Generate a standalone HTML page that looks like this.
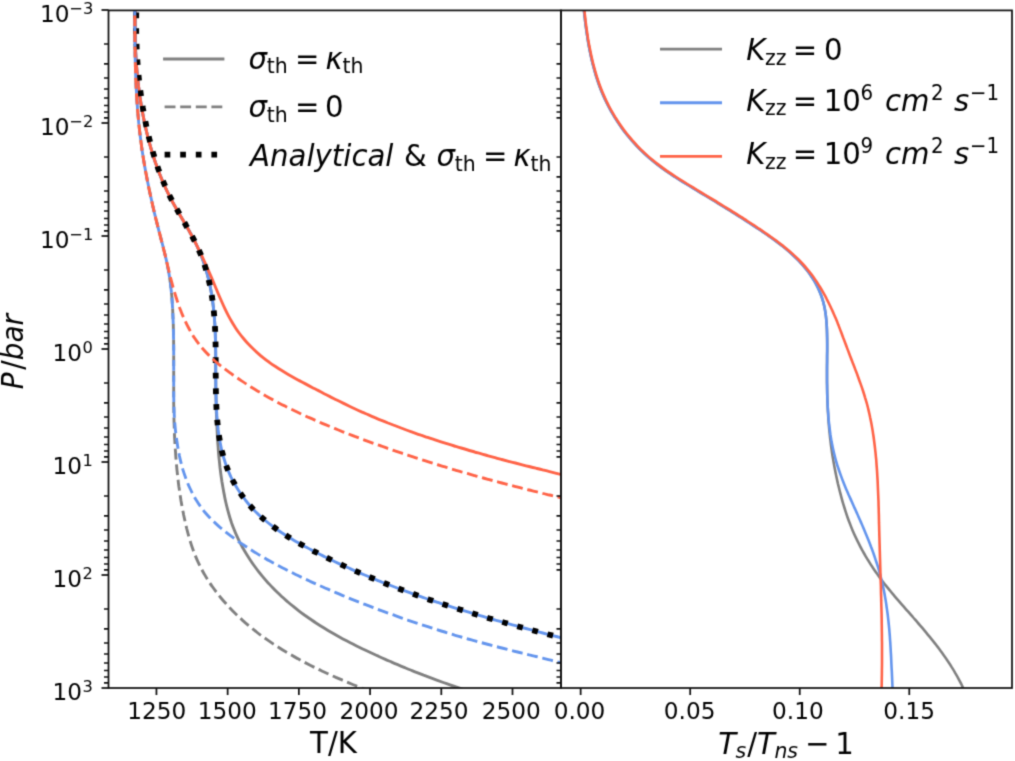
<!DOCTYPE html>
<html lang="en"><head><meta charset="utf-8"><title>P-T profiles</title>
<style>html,body{margin:0;padding:0;background:#fff}body{width:1015px;height:761px;overflow:hidden}svg{display:block}text{font-family:"DejaVu Sans","Liberation Sans",sans-serif;fill:#000}.i{font-style:italic}</style>
</head><body>
<svg width="1015" height="761" viewBox="0 0 1015 761">
<defs><filter id="soft" filterUnits="userSpaceOnUse" x="0" y="0" width="1015" height="761" color-interpolation-filters="sRGB"><feConvolveMatrix order="3" kernelMatrix="1 4 1 4 16 4 1 4 1" divisor="36" edgeMode="duplicate"/></filter></defs>
<defs><clipPath id="cl"><rect x="108.5" y="10.4" width="452.5" height="677.6"/></clipPath><clipPath id="cr"><rect x="561.0" y="10.4" width="451.0" height="677.6"/></clipPath></defs>
<g filter="url(#soft)">
<rect width="1015" height="761" fill="#fff"/>
<g clip-path="url(#cl)">
<path d="M135.1,10.5C135.1,11.7 135.0,15.2 135.0,17.5C135.0,19.9 135.0,22.2 135.0,24.6C135.0,26.9 135.0,29.3 135.0,31.6C135.0,34.0 135.1,36.3 135.2,38.7C135.2,41.0 135.3,43.4 135.4,45.7C135.5,48.0 135.6,50.4 135.7,52.7C135.8,55.1 135.9,57.4 136.1,59.8C136.2,62.1 136.4,64.4 136.6,66.8C136.8,69.1 137.0,71.5 137.2,73.8C137.4,76.1 137.6,78.5 137.9,80.8C138.1,83.1 138.4,85.5 138.7,87.8C139.0,90.1 139.3,92.5 139.6,94.8C140.0,97.1 140.3,99.4 140.7,101.7C141.0,104.1 141.4,106.4 141.8,108.7C142.2,111.0 142.7,113.3 143.1,115.6C143.6,117.9 144.0,120.2 144.5,122.5C145.0,124.8 145.5,127.1 146.0,129.4C146.6,131.7 147.1,134.0 147.7,136.2C148.3,138.5 148.9,140.8 149.5,143.0C150.1,145.3 150.7,147.6 151.4,149.8C152.1,152.1 152.8,154.3 153.5,156.5C154.2,158.8 154.9,161.0 155.7,163.2C156.4,165.5 157.2,167.7 158.1,169.9C158.9,172.1 159.7,174.3 160.6,176.4C161.5,178.6 162.4,180.8 163.3,182.9C164.3,185.1 165.2,187.2 166.2,189.3C167.2,191.5 168.2,193.6 169.3,195.7C170.3,197.8 171.4,199.9 172.5,201.9C173.7,204.0 174.8,206.0 176.0,208.1C177.1,210.1 178.3,212.2 179.5,214.2C180.6,216.2 181.8,218.2 183.0,220.3C184.2,222.3 185.4,224.3 186.6,226.4C187.7,228.4 188.9,230.4 190.0,232.5C191.2,234.5 192.3,236.6 193.4,238.7C194.4,240.8 195.5,242.9 196.5,245.0C197.5,247.1 198.5,249.2 199.4,251.4C200.4,253.5 201.2,255.7 202.1,257.9C202.9,260.1 203.7,262.3 204.4,264.5C205.2,266.8 205.8,269.0 206.5,271.3C207.1,273.5 207.7,275.8 208.3,278.1C208.9,280.4 209.4,282.7 209.9,284.9C210.3,287.2 210.8,289.6 211.2,291.9C211.6,294.2 212.0,296.5 212.3,298.8C212.6,301.1 212.9,303.5 213.2,305.8C213.5,308.1 213.7,310.5 214.0,312.8C214.2,315.1 214.4,317.5 214.5,319.8C214.7,322.2 214.9,324.5 215.0,326.8C215.1,329.2 215.2,331.5 215.3,333.9C215.4,336.2 215.4,338.6 215.5,340.9C215.6,343.3 215.6,345.6 215.6,348.0C215.7,350.3 215.7,352.7 215.7,355.0C215.7,357.3 215.7,359.7 215.7,362.0C215.7,364.4 215.7,366.7 215.7,369.1C215.7,371.4 215.7,373.8 215.7,376.1C215.8,378.5 215.8,380.8 215.8,383.2C215.8,385.5 215.8,387.9 215.9,390.2C215.9,392.6 216.0,394.9 216.0,397.2C216.0,399.6 216.1,401.9 216.2,404.3C216.2,406.6 216.3,409.0 216.3,411.3C216.4,413.7 216.5,416.0 216.6,418.4C216.7,420.7 216.8,423.1 216.9,425.4C217.0,427.7 217.1,430.1 217.2,432.4C217.3,434.8 217.5,437.1 217.6,439.5C217.7,441.8 217.9,444.2 218.1,446.5C218.2,448.8 218.4,451.2 218.6,453.5C218.8,455.9 219.0,458.2 219.3,460.5C219.5,462.9 219.8,465.2 220.0,467.5C220.3,469.9 220.6,472.2 220.9,474.5C221.2,476.9 221.6,479.2 221.9,481.5C222.3,483.8 222.7,486.2 223.1,488.5C223.5,490.8 223.9,493.1 224.4,495.4C224.8,497.7 225.3,500.0 225.8,502.3C226.3,504.6 226.9,506.9 227.5,509.2C228.1,511.5 228.7,513.7 229.4,516.0C230.0,518.2 230.8,520.5 231.5,522.7C232.3,524.9 233.1,527.1 234.0,529.3C234.8,531.4 235.7,533.6 236.7,535.7C237.7,537.9 238.7,540.0 239.7,542.1C240.8,544.1 241.9,546.2 243.0,548.3C244.2,550.3 245.3,552.3 246.6,554.3C247.8,556.3 249.1,558.3 250.4,560.2C251.7,562.2 253.0,564.1 254.4,566.0C255.8,567.9 257.2,569.8 258.6,571.6C260.1,573.5 261.5,575.3 263.1,577.1C264.6,578.9 266.1,580.7 267.7,582.4C269.3,584.1 270.9,585.9 272.5,587.5C274.1,589.2 275.8,590.9 277.5,592.5C279.1,594.1 280.9,595.7 282.6,597.3C284.3,598.9 286.1,600.4 287.9,602.0C289.6,603.5 291.4,605.0 293.3,606.4C295.1,607.9 296.9,609.4 298.8,610.8C300.6,612.2 302.5,613.6 304.4,615.0C306.3,616.3 308.3,617.7 310.2,619.0C312.1,620.3 314.1,621.7 316.0,622.9C318.0,624.2 320.0,625.5 322.0,626.7C324.0,628.0 326.0,629.2 328.0,630.4C330.1,631.6 332.1,632.8 334.2,634.0C336.2,635.1 338.3,636.3 340.3,637.4C342.4,638.6 344.5,639.7 346.6,640.8C348.7,641.9 350.8,643.0 352.9,644.0C355.0,645.1 357.1,646.2 359.2,647.2C361.3,648.3 363.4,649.3 365.6,650.3C367.7,651.3 369.8,652.3 372.0,653.3C374.1,654.3 376.2,655.3 378.4,656.2C380.5,657.2 382.7,658.2 384.8,659.1C386.9,660.1 389.1,661.0 391.2,661.9C393.4,662.9 395.5,663.8 397.7,664.7C399.8,665.6 402.0,666.5 404.1,667.4C406.3,668.3 408.4,669.2 410.6,670.0C412.8,670.9 414.9,671.8 417.1,672.6C419.3,673.5 421.4,674.3 423.6,675.2C425.8,676.0 428.0,676.9 430.2,677.7C432.3,678.5 434.5,679.3 436.7,680.1C438.9,680.9 441.1,681.7 443.3,682.5C445.5,683.3 447.8,684.1 450.0,684.9C452.2,685.7 454.4,686.5 456.7,687.2C458.9,688.0 461.1,688.8 463.4,689.5C465.6,690.3 469.0,691.4 470.1,691.8" fill="none" stroke="#808080" stroke-width="2.9" stroke-linejoin="round" stroke-linecap="square"/>
<path d="M135.1,10.5C135.1,11.7 135.0,15.2 135.0,17.5C135.0,19.8 135.0,22.1 135.0,24.5C135.0,26.8 135.0,29.1 135.0,31.5C135.0,33.8 135.1,36.1 135.1,38.5C135.2,40.8 135.3,43.1 135.4,45.5C135.4,47.8 135.6,50.2 135.7,52.5C135.8,54.8 135.9,57.2 136.1,59.5C136.2,61.8 136.4,64.2 136.6,66.5C136.7,68.8 136.9,71.2 137.2,73.5C137.4,75.8 137.6,78.1 137.9,80.5C138.1,82.8 138.4,85.1 138.7,87.4C139.0,89.7 139.3,92.1 139.6,94.4C139.9,96.7 140.2,99.0 140.6,101.3C141.0,103.6 141.3,105.9 141.7,108.2C142.1,110.5 142.6,112.8 143.0,115.1C143.4,117.4 143.9,119.7 144.4,122.0C144.9,124.2 145.4,126.5 145.9,128.8C146.4,131.1 147.0,133.3 147.5,135.6C148.1,137.8 148.7,140.1 149.3,142.3C149.9,144.6 150.5,146.8 151.2,149.1C151.8,151.3 152.5,153.5 153.2,155.7C153.9,158.0 154.6,160.2 155.4,162.4C156.2,164.6 156.9,166.8 157.7,169.0C158.5,171.1 159.4,173.3 160.2,175.5C161.1,177.7 162.0,179.8 162.9,182.0C163.8,184.1 164.8,186.2 165.7,188.3C166.7,190.5 167.7,192.6 168.8,194.7C169.8,196.8 170.9,198.8 172.0,200.9C173.1,203.0 174.2,205.0 175.4,207.1C176.5,209.1 177.7,211.1 178.9,213.2C180.1,215.2 181.3,217.2 182.4,219.3C183.6,221.3 184.8,223.3 186.0,225.4C187.2,227.4 188.3,229.4 189.5,231.5C190.6,233.5 191.7,235.6 192.8,237.6C193.9,239.7 195.0,241.8 196.0,243.9C197.0,246.0 198.0,248.1 198.9,250.2C199.9,252.3 200.8,254.5 201.6,256.6C202.4,258.8 203.2,261.0 204.0,263.2C204.7,265.4 205.4,267.6 206.1,269.8C206.7,272.0 207.3,274.3 207.9,276.5C208.5,278.8 209.0,281.1 209.5,283.3C210.0,285.6 210.5,287.9 210.9,290.2C211.3,292.5 211.7,294.8 212.0,297.1C212.4,299.4 212.7,301.7 213.0,304.0C213.3,306.3 213.6,308.7 213.8,311.0C214.0,313.3 214.2,315.6 214.4,317.9C214.6,320.3 214.7,322.6 214.9,324.9C215.0,327.2 215.1,329.6 215.2,331.9C215.3,334.2 215.4,336.5 215.4,338.9C215.5,341.2 215.6,343.5 215.6,345.9C215.6,348.2 215.7,350.5 215.7,352.9C215.7,355.2 215.7,357.5 215.7,359.9C215.7,362.2 215.7,364.5 215.7,366.9C215.7,369.2 215.7,371.5 215.7,373.9C215.7,376.2 215.8,378.5 215.8,380.9C215.8,383.2 215.8,385.5 215.8,387.9C215.9,390.2 215.9,392.6 216.0,394.9C216.0,397.2 216.1,399.6 216.2,401.9C216.3,404.2 216.4,406.6 216.5,408.9C216.6,411.3 216.8,413.6 216.9,415.9C217.1,418.3 217.3,420.6 217.5,422.9C217.7,425.3 218.0,427.6 218.2,429.9C218.5,432.3 218.8,434.6 219.2,436.9C219.6,439.2 219.9,441.5 220.4,443.8C220.8,446.1 221.3,448.4 221.8,450.7C222.4,453.0 223.0,455.2 223.6,457.5C224.3,459.7 225.0,461.9 225.7,464.1C226.5,466.3 227.3,468.5 228.2,470.7C229.1,472.8 230.0,475.0 231.0,477.1C232.1,479.2 233.1,481.3 234.3,483.3C235.4,485.3 236.6,487.4 237.8,489.3C239.1,491.3 240.4,493.3 241.7,495.2C243.1,497.1 244.5,498.9 245.9,500.8C247.4,502.6 248.8,504.4 250.4,506.1C251.9,507.8 253.5,509.5 255.1,511.2C256.8,512.8 258.4,514.4 260.1,516.0C261.8,517.5 263.6,519.1 265.3,520.5C267.1,522.0 268.9,523.5 270.8,524.9C272.6,526.3 274.5,527.7 276.4,529.0C278.3,530.4 280.2,531.7 282.1,533.0C284.1,534.3 286.1,535.5 288.0,536.8C290.0,538.0 292.0,539.2 294.1,540.4C296.1,541.6 298.1,542.7 300.2,543.9C302.2,545.0 304.3,546.2 306.4,547.3C308.4,548.4 310.5,549.5 312.6,550.6C314.7,551.7 316.8,552.7 318.9,553.8C321.0,554.9 323.1,555.9 325.2,557.0C327.3,558.0 329.4,559.0 331.5,560.0C333.6,561.1 335.7,562.1 337.9,563.1C340.0,564.0 342.1,565.0 344.2,566.0C346.4,567.0 348.5,567.9 350.6,568.9C352.7,569.9 354.9,570.8 357.0,571.7C359.2,572.7 361.3,573.6 363.5,574.5C365.6,575.4 367.7,576.3 369.9,577.2C372.1,578.1 374.2,579.0 376.4,579.9C378.5,580.8 380.7,581.6 382.9,582.5C385.0,583.4 387.2,584.2 389.4,585.0C391.5,585.9 393.7,586.7 395.9,587.5C398.1,588.4 400.2,589.2 402.4,590.0C404.6,590.8 406.8,591.6 409.0,592.4C411.2,593.2 413.4,594.0 415.6,594.8C417.7,595.6 419.9,596.3 422.1,597.1C424.3,597.9 426.5,598.6 428.7,599.4C430.9,600.1 433.2,600.9 435.4,601.6C437.6,602.3 439.8,603.1 442.0,603.8C444.2,604.5 446.4,605.2 448.6,605.9C450.9,606.7 453.1,607.4 455.3,608.1C457.5,608.8 459.7,609.5 462.0,610.1C464.2,610.8 466.4,611.5 468.7,612.2C470.9,612.9 473.1,613.5 475.4,614.2C477.6,614.9 479.8,615.5 482.1,616.2C484.3,616.9 486.5,617.5 488.8,618.2C491.0,618.8 493.3,619.4 495.5,620.1C497.8,620.7 500.0,621.4 502.2,622.0C504.5,622.6 506.7,623.3 509.0,623.9C511.2,624.5 513.5,625.1 515.7,625.7C518.0,626.4 520.3,627.0 522.5,627.6C524.8,628.2 527.0,628.8 529.3,629.4C531.5,630.0 533.8,630.6 536.1,631.2C538.3,631.8 540.6,632.4 542.8,633.0C545.1,633.6 547.4,634.2 549.6,634.8C551.9,635.4 554.2,636.0 556.4,636.5C558.7,637.1 561.0,637.7 563.2,638.3C565.5,638.9 568.9,639.7 570.1,640.0" fill="none" stroke="#6495ed" stroke-width="2.9" stroke-linejoin="round" stroke-linecap="square"/>
<path d="M135.1,10.5C135.1,11.7 135.0,15.2 135.0,17.5C135.0,19.9 135.0,22.2 135.0,24.6C135.0,26.9 135.0,29.2 135.0,31.6C135.0,33.9 135.1,36.3 135.1,38.6C135.2,41.0 135.3,43.3 135.4,45.6C135.5,48.0 135.6,50.3 135.7,52.7C135.8,55.0 135.9,57.4 136.1,59.7C136.2,62.0 136.4,64.4 136.6,66.7C136.8,69.0 137.0,71.4 137.2,73.7C137.4,76.1 137.6,78.4 137.9,80.7C138.1,83.0 138.4,85.4 138.7,87.7C139.0,90.0 139.3,92.3 139.6,94.7C139.9,97.0 140.3,99.3 140.7,101.6C141.0,103.9 141.4,106.2 141.8,108.6C142.2,110.9 142.6,113.2 143.1,115.5C143.5,117.8 144.0,120.1 144.5,122.4C145.0,124.7 145.5,126.9 146.0,129.2C146.5,131.5 147.1,133.8 147.6,136.1C148.2,138.3 148.8,140.6 149.4,142.9C150.0,145.1 150.7,147.4 151.3,149.6C152.0,151.9 152.7,154.1 153.4,156.3C154.1,158.6 154.9,160.8 155.6,163.0C156.4,165.2 157.2,167.4 158.0,169.6C158.8,171.8 159.6,174.0 160.5,176.2C161.4,178.4 162.3,180.6 163.2,182.7C164.1,184.9 165.1,187.0 166.1,189.1C167.1,191.2 168.1,193.3 169.2,195.4C170.2,197.5 171.3,199.6 172.4,201.7C173.5,203.7 174.7,205.8 175.8,207.8C177.0,209.9 178.2,211.9 179.3,213.9C180.5,215.9 181.7,218.0 182.9,220.0C184.0,222.0 185.2,224.0 186.4,226.1C187.6,228.1 188.7,230.1 189.8,232.2C191.0,234.2 192.1,236.3 193.2,238.4C194.3,240.5 195.3,242.5 196.4,244.6C197.4,246.7 198.5,248.9 199.5,251.0C200.5,253.1 201.5,255.2 202.5,257.3C203.4,259.5 204.4,261.6 205.4,263.7C206.3,265.9 207.3,268.0 208.2,270.1C209.2,272.3 210.1,274.4 211.1,276.6C212.0,278.7 212.9,280.9 213.8,283.0C214.7,285.2 215.6,287.4 216.5,289.5C217.4,291.7 218.3,293.9 219.2,296.0C220.2,298.2 221.1,300.3 222.1,302.5C223.0,304.6 224.0,306.8 225.0,308.9C226.0,311.0 227.0,313.1 228.1,315.1C229.2,317.2 230.3,319.3 231.5,321.3C232.6,323.3 233.9,325.3 235.1,327.2C236.4,329.2 237.7,331.1 239.1,333.0C240.5,334.9 242.0,336.7 243.5,338.5C245.0,340.3 246.5,342.1 248.1,343.8C249.7,345.5 251.4,347.2 253.1,348.8C254.8,350.5 256.5,352.1 258.3,353.6C260.0,355.2 261.9,356.7 263.7,358.1C265.5,359.6 267.4,361.0 269.3,362.3C271.2,363.7 273.1,365.0 275.1,366.3C277.0,367.6 279.0,368.9 281.0,370.1C283.0,371.3 285.0,372.5 287.0,373.7C289.0,374.9 291.1,376.1 293.1,377.2C295.2,378.3 297.2,379.5 299.3,380.6C301.4,381.7 303.4,382.8 305.5,383.9C307.6,385.0 309.7,386.1 311.7,387.2C313.8,388.3 315.9,389.3 318.0,390.4C320.1,391.5 322.1,392.6 324.2,393.7C326.3,394.7 328.4,395.8 330.5,396.9C332.6,397.9 334.7,399.0 336.8,400.0C338.9,401.1 341.0,402.1 343.1,403.1C345.2,404.2 347.3,405.2 349.4,406.2C351.5,407.2 353.6,408.2 355.8,409.2C357.9,410.1 360.0,411.1 362.1,412.1C364.3,413.0 366.4,414.0 368.6,414.9C370.7,415.8 372.9,416.8 375.0,417.7C377.2,418.6 379.3,419.5 381.5,420.3C383.7,421.2 385.8,422.1 388.0,423.0C390.2,423.8 392.4,424.7 394.6,425.5C396.7,426.4 398.9,427.2 401.1,428.0C403.3,428.8 405.5,429.7 407.7,430.5C409.9,431.3 412.1,432.1 414.3,432.8C416.5,433.6 418.7,434.4 421.0,435.2C423.2,435.9 425.4,436.7 427.6,437.4C429.8,438.2 432.1,438.9 434.3,439.6C436.5,440.4 438.7,441.1 441.0,441.8C443.2,442.5 445.4,443.2 447.7,443.9C449.9,444.6 452.2,445.3 454.4,446.0C456.7,446.7 458.9,447.4 461.2,448.0C463.4,448.7 465.7,449.4 467.9,450.0C470.2,450.7 472.4,451.3 474.7,452.0C476.9,452.6 479.2,453.3 481.4,453.9C483.7,454.5 486.0,455.2 488.2,455.8C490.5,456.4 492.8,457.0 495.0,457.6C497.3,458.3 499.6,458.9 501.8,459.5C504.1,460.1 506.4,460.7 508.6,461.3C510.9,461.9 513.2,462.5 515.4,463.0C517.7,463.6 520.0,464.2 522.3,464.8C524.5,465.4 526.8,466.0 529.1,466.5C531.3,467.1 533.6,467.7 535.9,468.2C538.2,468.8 540.4,469.4 542.7,469.9C545.0,470.5 547.2,471.1 549.5,471.6C551.8,472.2 554.1,472.8 556.3,473.3C558.6,473.9 560.9,474.4 563.1,475.0C565.4,475.5 568.8,476.4 569.9,476.6" fill="none" stroke="#ff6347" stroke-width="2.9" stroke-linejoin="round" stroke-linecap="square"/>
<path d="M136.3,10.5C136.3,11.7 136.2,15.2 136.2,17.5C136.2,19.8 136.2,22.1 136.2,24.5C136.2,26.8 136.2,29.1 136.2,31.5C136.2,33.8 136.3,36.1 136.3,38.5C136.4,40.8 136.5,43.1 136.6,45.5C136.6,47.8 136.8,50.2 136.9,52.5C137.0,54.8 137.1,57.2 137.3,59.5C137.4,61.8 137.6,64.2 137.8,66.5C137.9,68.8 138.1,71.2 138.4,73.5C138.6,75.8 138.8,78.1 139.1,80.5C139.3,82.8 139.6,85.1 139.9,87.4C140.2,89.7 140.5,92.1 140.8,94.4C141.1,96.7 141.4,99.0 141.8,101.3C142.2,103.6 142.6,105.9 142.9,108.2C143.3,110.5 143.7,112.8 144.1,115.1C144.6,117.4 145.0,119.7 145.5,122.0C145.9,124.2 146.4,126.5 146.9,128.8C147.4,131.1 147.9,133.3 148.5,135.6C149.0,137.8 149.6,140.1 150.2,142.3C150.7,144.6 151.4,146.8 152.0,149.1C152.6,151.3 153.3,153.5 154.0,155.7C154.6,158.0 155.3,160.2 156.1,162.4C156.8,164.6 157.6,166.8 158.3,169.0C159.1,171.1 159.9,173.3 160.8,175.5C161.6,177.7 162.5,179.8 163.4,182.0C164.3,184.1 165.2,186.2 166.1,188.3C167.1,190.5 168.1,192.6 169.1,194.7C170.1,196.8 171.2,198.8 172.3,200.9C173.4,203.0 174.5,205.0 175.6,207.1C176.8,209.1 177.9,211.1 179.1,213.2C180.2,215.2 181.4,217.2 182.5,219.3C183.7,221.3 184.9,223.3 186.0,225.4C187.2,227.4 188.3,229.4 189.5,231.5C190.6,233.5 191.7,235.6 192.8,237.6C193.9,239.7 195.0,241.8 196.0,243.9C197.0,246.0 198.0,248.1 198.9,250.2C199.9,252.3 200.8,254.5 201.6,256.6C202.4,258.8 203.2,261.0 204.0,263.2C204.7,265.4 205.4,267.6 206.1,269.8C206.7,272.0 207.3,274.3 207.9,276.5C208.5,278.8 209.0,281.1 209.5,283.3C210.0,285.6 210.5,287.9 210.9,290.2C211.3,292.5 211.7,294.8 212.0,297.1C212.4,299.4 212.7,301.7 213.0,304.0C213.3,306.3 213.6,308.7 213.8,311.0C214.0,313.3 214.2,315.6 214.4,317.9C214.6,320.3 214.7,322.6 214.9,324.9C215.0,327.2 215.1,329.6 215.2,331.9C215.3,334.2 215.4,336.5 215.4,338.9C215.5,341.2 215.6,343.5 215.6,345.9C215.6,348.2 215.7,350.5 215.7,352.9C215.7,355.2 215.7,357.5 215.7,359.9C215.7,362.2 215.7,364.5 215.7,366.9C215.7,369.2 215.7,371.5 215.7,373.9C215.7,376.2 215.8,378.5 215.8,380.9C215.8,383.2 215.8,385.5 215.8,387.9C215.9,390.2 215.9,392.6 216.0,394.9C216.0,397.2 216.1,399.6 216.2,401.9C216.3,404.2 216.4,406.6 216.5,408.9C216.6,411.3 216.8,413.6 216.9,415.9C217.1,418.3 217.3,420.6 217.5,422.9C217.7,425.3 218.0,427.6 218.2,429.9C218.5,432.3 218.8,434.6 219.2,436.9C219.6,439.2 219.9,441.5 220.4,443.8C220.8,446.1 221.3,448.4 221.8,450.7C222.4,453.0 223.0,455.2 223.6,457.5C224.3,459.7 225.0,461.9 225.7,464.1C226.5,466.3 227.3,468.5 228.2,470.7C229.1,472.8 230.0,475.0 231.0,477.1C232.1,479.2 233.1,481.3 234.3,483.3C235.4,485.3 236.6,487.4 237.8,489.3C239.1,491.3 240.4,493.3 241.7,495.2C243.1,497.1 244.5,498.9 245.9,500.8C247.4,502.6 248.8,504.4 250.4,506.1C251.9,507.8 253.5,509.5 255.1,511.2C256.8,512.8 258.4,514.4 260.1,516.0C261.8,517.5 263.6,519.1 265.3,520.5C267.1,522.0 268.9,523.5 270.8,524.9C272.6,526.3 274.5,527.7 276.4,529.0C278.3,530.4 280.2,531.7 282.1,533.0C284.1,534.3 286.1,535.5 288.0,536.8C290.0,538.0 292.0,539.2 294.1,540.4C296.1,541.6 298.1,542.7 300.2,543.9C302.2,545.0 304.3,546.2 306.4,547.3C308.4,548.4 310.5,549.5 312.6,550.6C314.7,551.7 316.8,552.7 318.9,553.8C321.0,554.9 323.1,555.9 325.2,557.0C327.3,558.0 329.4,559.0 331.5,560.0C333.6,561.1 335.7,562.1 337.9,563.1C340.0,564.0 342.1,565.0 344.2,566.0C346.4,567.0 348.5,567.9 350.6,568.9C352.7,569.9 354.9,570.8 357.0,571.7C359.2,572.7 361.3,573.6 363.5,574.5C365.6,575.4 367.7,576.3 369.9,577.2C372.1,578.1 374.2,579.0 376.4,579.9C378.5,580.8 380.7,581.6 382.9,582.5C385.0,583.4 387.2,584.2 389.4,585.0C391.5,585.9 393.7,586.7 395.9,587.5C398.1,588.4 400.2,589.2 402.4,590.0C404.6,590.8 406.8,591.6 409.0,592.4C411.2,593.2 413.4,594.0 415.6,594.8C417.7,595.6 419.9,596.3 422.1,597.1C424.3,597.9 426.5,598.6 428.7,599.4C430.9,600.1 433.2,600.9 435.4,601.6C437.6,602.3 439.8,603.1 442.0,603.8C444.2,604.5 446.4,605.2 448.6,605.9C450.9,606.7 453.1,607.4 455.3,608.1C457.5,608.8 459.7,609.5 462.0,610.1C464.2,610.8 466.4,611.5 468.7,612.2C470.9,612.9 473.1,613.5 475.4,614.2C477.6,614.9 479.8,615.5 482.1,616.2C484.3,616.9 486.5,617.5 488.8,618.2C491.0,618.8 493.3,619.4 495.5,620.1C497.8,620.7 500.0,621.4 502.2,622.0C504.5,622.6 506.7,623.3 509.0,623.9C511.2,624.5 513.5,625.1 515.7,625.7C518.0,626.4 520.3,627.0 522.5,627.6C524.8,628.2 527.0,628.8 529.3,629.4C531.5,630.0 533.8,630.6 536.1,631.2C538.3,631.8 540.6,632.4 542.8,633.0C545.1,633.6 547.4,634.2 549.6,634.8C551.9,635.4 554.2,636.0 556.4,636.5C558.7,637.1 561.0,637.7 563.2,638.3C565.5,638.9 568.9,639.7 570.1,640.0" fill="none" stroke="#000" stroke-width="5.8" stroke-linejoin="round" stroke-linecap="butt" stroke-dasharray="5.7 9.9" stroke-dashoffset="13.47"/>
<path d="M134.8,10.5C134.8,11.7 134.8,15.2 134.8,17.5C134.8,19.9 134.8,22.2 134.8,24.6C134.8,26.9 134.8,29.3 134.9,31.6C134.9,34.0 134.9,36.3 134.9,38.7C134.9,41.0 135.0,43.4 135.0,45.8C135.0,48.1 135.1,50.5 135.1,52.8C135.1,55.2 135.2,57.5 135.2,59.9C135.3,62.2 135.4,64.6 135.4,67.0C135.5,69.3 135.6,71.7 135.7,74.0C135.7,76.4 135.8,78.7 135.9,81.1C136.0,83.4 136.1,85.8 136.2,88.2C136.4,90.5 136.5,92.9 136.6,95.2C136.8,97.6 136.9,99.9 137.1,102.3C137.2,104.6 137.4,107.0 137.6,109.3C137.8,111.7 138.0,114.0 138.2,116.4C138.4,118.7 138.6,121.0 138.8,123.4C139.0,125.7 139.3,128.1 139.5,130.4C139.8,132.7 140.1,135.1 140.4,137.4C140.7,139.7 141.0,142.1 141.3,144.4C141.6,146.7 141.9,149.1 142.3,151.4C142.6,153.7 143.0,156.0 143.4,158.4C143.7,160.7 144.1,163.0 144.5,165.3C144.9,167.6 145.3,169.9 145.8,172.3C146.2,174.6 146.6,176.9 147.1,179.2C147.5,181.5 148.0,183.8 148.5,186.1C149.0,188.4 149.4,190.7 149.9,193.0C150.4,195.3 150.9,197.6 151.4,199.9C152.0,202.2 152.5,204.5 153.0,206.8C153.5,209.1 154.1,211.4 154.6,213.7C155.2,216.0 155.7,218.3 156.3,220.5C156.9,222.8 157.4,225.1 158.0,227.4C158.6,229.7 159.2,232.0 159.8,234.2C160.4,236.5 161.0,238.8 161.6,241.1C162.2,243.4 162.8,245.6 163.3,247.9C163.9,250.2 164.5,252.5 165.1,254.8C165.6,257.0 166.1,259.3 166.6,261.6C167.1,263.9 167.6,266.2 168.1,268.5C168.5,270.8 168.9,273.1 169.3,275.4C169.6,277.8 170.0,280.1 170.3,282.4C170.6,284.7 170.9,287.1 171.1,289.4C171.3,291.7 171.6,294.1 171.8,296.4C172.0,298.7 172.1,301.1 172.3,303.4C172.4,305.8 172.6,308.1 172.7,310.5C172.8,312.8 172.9,315.2 173.0,317.5C173.1,319.9 173.2,322.2 173.3,324.6C173.3,326.9 173.4,329.3 173.4,331.6C173.5,334.0 173.5,336.3 173.6,338.7C173.6,341.0 173.6,343.4 173.7,345.7C173.7,348.1 173.7,350.4 173.7,352.8C173.7,355.1 173.7,357.5 173.7,359.8C173.7,362.2 173.7,364.6 173.7,366.9C173.7,369.3 173.7,371.6 173.7,374.0C173.7,376.3 173.7,378.7 173.7,381.1C173.7,383.4 173.7,385.8 173.7,388.1C173.7,390.5 173.7,392.8 173.7,395.2C173.7,397.6 173.7,399.9 173.7,402.3C173.7,404.6 173.8,407.0 173.8,409.3C173.8,411.7 173.9,414.1 173.9,416.4C174.0,418.8 174.0,421.1 174.1,423.5C174.2,425.8 174.3,428.2 174.3,430.6C174.4,432.9 174.5,435.3 174.6,437.6C174.8,440.0 174.9,442.3 175.0,444.7C175.1,447.0 175.3,449.4 175.5,451.7C175.6,454.1 175.8,456.4 176.0,458.8C176.2,461.1 176.4,463.5 176.6,465.8C176.8,468.1 177.0,470.5 177.3,472.8C177.5,475.2 177.8,477.5 178.1,479.8C178.3,482.2 178.6,484.5 178.9,486.8C179.3,489.2 179.6,491.5 179.9,493.8C180.3,496.1 180.7,498.5 181.0,500.8C181.4,503.1 181.8,505.4 182.3,507.7C182.7,510.1 183.2,512.4 183.6,514.7C184.1,517.0 184.6,519.3 185.1,521.6C185.6,523.9 186.2,526.2 186.7,528.5C187.3,530.8 187.9,533.1 188.5,535.3C189.1,537.6 189.8,539.9 190.5,542.1C191.2,544.4 191.9,546.6 192.7,548.8C193.5,551.0 194.3,553.2 195.2,555.4C196.1,557.6 197.0,559.8 198.0,561.9C199.0,564.0 200.0,566.1 201.1,568.2C202.1,570.3 203.3,572.4 204.5,574.4C205.6,576.4 206.9,578.5 208.2,580.4C209.4,582.4 210.7,584.4 212.1,586.3C213.4,588.2 214.8,590.1 216.3,592.0C217.7,593.8 219.1,595.7 220.6,597.5C222.1,599.3 223.6,601.1 225.2,602.8C226.7,604.6 228.3,606.3 229.9,608.0C231.5,609.7 233.1,611.4 234.8,613.0C236.5,614.6 238.2,616.3 239.9,617.9C241.6,619.4 243.3,621.0 245.1,622.6C246.9,624.1 248.7,625.6 250.5,627.1C252.3,628.6 254.1,630.1 256.0,631.5C257.8,633.0 259.7,634.4 261.6,635.8C263.5,637.2 265.4,638.5 267.4,639.9C269.3,641.2 271.3,642.6 273.2,643.9C275.2,645.2 277.2,646.5 279.2,647.7C281.2,649.0 283.2,650.3 285.3,651.5C287.3,652.7 289.3,653.9 291.4,655.1C293.4,656.3 295.5,657.5 297.6,658.6C299.7,659.8 301.8,660.9 303.9,662.0C306.0,663.1 308.1,664.2 310.2,665.3C312.3,666.3 314.5,667.4 316.6,668.4C318.7,669.5 320.9,670.5 323.0,671.5C325.2,672.5 327.3,673.5 329.5,674.5C331.6,675.5 333.8,676.4 335.9,677.4C338.1,678.3 340.3,679.3 342.4,680.2C344.6,681.1 346.7,682.0 348.9,682.9C351.1,683.8 353.2,684.7 355.4,685.5C357.5,686.4 359.7,687.2 361.8,688.1C364.0,688.9 366.1,689.8 368.3,690.6C370.4,691.4 373.6,692.6 374.7,693.0" fill="none" stroke="#808080" stroke-width="2.9" stroke-linejoin="round" stroke-linecap="butt" stroke-dasharray="10.89 4.71" stroke-dashoffset="10.64"/>
<path d="M134.8,10.5C134.8,11.7 134.8,15.2 134.8,17.5C134.8,19.9 134.8,22.2 134.8,24.5C134.8,26.9 134.9,29.2 134.9,31.5C134.9,33.9 134.9,36.2 134.9,38.6C134.9,40.9 135.0,43.2 135.0,45.6C135.0,47.9 135.1,50.3 135.1,52.6C135.1,54.9 135.2,57.3 135.2,59.6C135.3,61.9 135.3,64.3 135.4,66.6C135.5,68.9 135.6,71.3 135.6,73.6C135.7,76.0 135.8,78.3 135.9,80.6C136.0,83.0 136.1,85.3 136.2,87.6C136.3,90.0 136.5,92.3 136.6,94.6C136.7,97.0 136.9,99.3 137.0,101.6C137.2,104.0 137.4,106.3 137.5,108.6C137.7,111.0 137.9,113.3 138.1,115.6C138.3,118.0 138.5,120.3 138.7,122.6C139.0,124.9 139.2,127.3 139.5,129.6C139.7,131.9 140.0,134.2 140.3,136.6C140.6,138.9 140.8,141.2 141.2,143.5C141.5,145.8 141.8,148.2 142.1,150.5C142.5,152.8 142.8,155.1 143.2,157.4C143.6,159.7 144.0,162.0 144.4,164.3C144.7,166.6 145.2,168.9 145.6,171.2C146.0,173.5 146.4,175.8 146.9,178.1C147.3,180.4 147.8,182.7 148.3,185.0C148.7,187.3 149.2,189.6 149.7,191.9C150.2,194.2 150.7,196.4 151.2,198.7C151.7,201.0 152.2,203.3 152.7,205.6C153.2,207.8 153.8,210.1 154.3,212.4C154.9,214.7 155.4,216.9 156.0,219.2C156.5,221.5 157.1,223.8 157.7,226.0C158.3,228.3 158.8,230.5 159.4,232.8C160.0,235.1 160.6,237.3 161.2,239.6C161.8,241.9 162.4,244.1 163.0,246.4C163.5,248.7 164.1,250.9 164.7,253.2C165.2,255.5 165.8,257.7 166.3,260.0C166.8,262.3 167.3,264.6 167.7,266.9C168.2,269.2 168.6,271.5 169.0,273.8C169.4,276.1 169.7,278.4 170.1,280.7C170.4,283.0 170.7,285.4 170.9,287.7C171.2,290.0 171.4,292.3 171.6,294.7C171.8,297.0 172.0,299.3 172.2,301.7C172.3,304.0 172.5,306.3 172.6,308.7C172.7,311.0 172.8,313.3 172.9,315.7C173.0,318.0 173.1,320.3 173.2,322.7C173.3,325.0 173.3,327.3 173.4,329.7C173.5,332.0 173.5,334.4 173.5,336.7C173.6,339.0 173.6,341.4 173.6,343.7C173.7,346.0 173.7,348.4 173.7,350.7C173.7,353.1 173.7,355.4 173.7,357.7C173.7,360.1 173.7,362.4 173.7,364.8C173.7,367.1 173.7,369.4 173.7,371.8C173.7,374.1 173.7,376.4 173.7,378.8C173.7,381.1 173.7,383.5 173.7,385.8C173.7,388.1 173.7,390.5 173.7,392.8C173.7,395.1 173.7,397.5 173.8,399.8C173.8,402.2 173.8,404.5 173.9,406.8C174.0,409.2 174.1,411.5 174.2,413.8C174.3,416.2 174.4,418.5 174.6,420.8C174.8,423.2 175.0,425.5 175.2,427.8C175.4,430.1 175.7,432.5 176.0,434.8C176.3,437.1 176.6,439.5 177.0,441.8C177.3,444.1 177.7,446.4 178.1,448.7C178.5,451.1 179.0,453.4 179.4,455.7C179.9,458.0 180.4,460.3 181.0,462.6C181.6,464.9 182.2,467.1 182.8,469.4C183.5,471.6 184.2,473.9 185.0,476.1C185.8,478.3 186.6,480.5 187.5,482.6C188.3,484.8 189.3,486.9 190.3,489.0C191.3,491.1 192.3,493.2 193.4,495.2C194.5,497.3 195.7,499.3 197.0,501.2C198.2,503.2 199.5,505.1 200.9,507.0C202.2,508.9 203.6,510.7 205.1,512.5C206.6,514.3 208.2,516.0 209.8,517.7C211.4,519.4 213.1,521.0 214.8,522.6C216.5,524.2 218.2,525.8 220.0,527.3C221.8,528.8 223.6,530.3 225.5,531.8C227.3,533.3 229.2,534.7 231.1,536.1C232.9,537.5 234.8,538.9 236.7,540.3C238.7,541.6 240.6,543.0 242.5,544.3C244.5,545.6 246.4,546.9 248.4,548.2C250.3,549.4 252.3,550.7 254.3,551.9C256.3,553.1 258.3,554.4 260.3,555.5C262.3,556.7 264.3,557.9 266.3,559.1C268.4,560.2 270.4,561.4 272.5,562.5C274.5,563.6 276.6,564.7 278.6,565.8C280.7,566.9 282.8,568.0 284.9,569.0C286.9,570.1 289.0,571.2 291.1,572.2C293.2,573.2 295.3,574.3 297.4,575.3C299.5,576.3 301.6,577.3 303.7,578.3C305.9,579.3 308.0,580.3 310.1,581.3C312.2,582.2 314.4,583.2 316.5,584.2C318.6,585.1 320.7,586.1 322.9,587.0C325.0,588.0 327.2,588.9 329.3,589.8C331.5,590.8 333.6,591.7 335.8,592.6C337.9,593.5 340.1,594.4 342.2,595.3C344.4,596.2 346.5,597.1 348.7,598.0C350.9,598.9 353.0,599.7 355.2,600.6C357.4,601.5 359.5,602.3 361.7,603.2C363.9,604.0 366.1,604.9 368.3,605.7C370.4,606.5 372.6,607.4 374.8,608.2C377.0,609.0 379.2,609.8 381.4,610.7C383.6,611.5 385.8,612.3 388.0,613.1C390.2,613.9 392.4,614.7 394.6,615.4C396.8,616.2 399.0,617.0 401.2,617.8C403.4,618.6 405.6,619.3 407.8,620.1C410.0,620.8 412.2,621.6 414.5,622.3C416.7,623.1 418.9,623.8 421.1,624.6C423.3,625.3 425.6,626.0 427.8,626.7C430.0,627.5 432.2,628.2 434.5,628.9C436.7,629.6 438.9,630.3 441.2,631.0C443.4,631.7 445.6,632.4 447.9,633.0C450.1,633.7 452.3,634.4 454.6,635.1C456.8,635.7 459.1,636.4 461.3,637.0C463.6,637.7 465.8,638.3 468.1,639.0C470.3,639.6 472.6,640.2 474.8,640.8C477.1,641.5 479.3,642.1 481.6,642.7C483.8,643.3 486.1,643.9 488.4,644.5C490.6,645.1 492.9,645.7 495.1,646.3C497.4,646.9 499.7,647.5 501.9,648.0C504.2,648.6 506.5,649.2 508.7,649.8C511.0,650.3 513.3,650.9 515.5,651.5C517.8,652.0 520.1,652.6 522.3,653.2C524.6,653.7 526.9,654.3 529.2,654.9C531.4,655.4 533.7,656.0 536.0,656.5C538.2,657.1 540.5,657.7 542.8,658.2C545.0,658.8 547.3,659.3 549.6,659.9C551.9,660.5 554.1,661.0 556.4,661.6C558.7,662.2 560.9,662.7 563.2,663.3C565.5,663.9 568.9,664.7 570.0,665.0" fill="none" stroke="#6495ed" stroke-width="2.9" stroke-linejoin="round" stroke-linecap="butt" stroke-dasharray="10.89 4.71" stroke-dashoffset="5.8"/>
<path d="M134.8,10.5C134.8,11.7 134.8,15.2 134.8,17.5C134.8,19.9 134.8,22.2 134.8,24.5C134.8,26.9 134.8,29.2 134.9,31.6C134.9,33.9 134.9,36.2 134.9,38.6C134.9,40.9 135.0,43.2 135.0,45.6C135.0,47.9 135.1,50.3 135.1,52.6C135.1,54.9 135.2,57.3 135.2,59.6C135.3,62.0 135.4,64.3 135.4,66.6C135.5,69.0 135.6,71.3 135.6,73.7C135.7,76.0 135.8,78.3 135.9,80.7C136.0,83.0 136.1,85.3 136.2,87.7C136.3,90.0 136.5,92.3 136.6,94.7C136.7,97.0 136.9,99.4 137.0,101.7C137.2,104.0 137.4,106.4 137.5,108.7C137.7,111.0 137.9,113.3 138.1,115.7C138.3,118.0 138.5,120.3 138.7,122.7C139.0,125.0 139.2,127.3 139.5,129.7C139.7,132.0 140.0,134.3 140.3,136.6C140.6,138.9 140.9,141.3 141.2,143.6C141.5,145.9 141.8,148.2 142.1,150.5C142.5,152.8 142.9,155.2 143.2,157.5C143.6,159.8 144.0,162.1 144.4,164.4C144.8,166.7 145.2,169.0 145.6,171.3C146.0,173.6 146.5,175.9 146.9,178.2C147.3,180.5 147.8,182.8 148.3,185.1C148.7,187.4 149.2,189.7 149.7,191.9C150.2,194.2 150.7,196.5 151.2,198.8C151.7,201.1 152.2,203.4 152.7,205.7C153.3,207.9 153.8,210.2 154.3,212.5C154.9,214.8 155.4,217.0 156.0,219.3C156.6,221.6 157.1,223.8 157.7,226.1C158.3,228.4 158.9,230.6 159.5,232.9C160.0,235.2 160.6,237.4 161.2,239.7C161.8,242.0 162.4,244.2 163.0,246.5C163.5,248.8 164.1,251.0 164.7,253.3C165.2,255.6 165.8,257.9 166.3,260.1C166.9,262.4 167.4,264.7 167.9,266.9C168.5,269.2 169.0,271.5 169.6,273.8C170.1,276.0 170.7,278.3 171.3,280.5C171.9,282.8 172.5,285.1 173.1,287.3C173.8,289.6 174.4,291.8 175.1,294.1C175.8,296.3 176.5,298.6 177.2,300.8C178.0,303.0 178.7,305.3 179.5,307.5C180.4,309.7 181.2,311.9 182.1,314.1C183.0,316.2 183.9,318.4 184.9,320.5C185.9,322.7 186.9,324.8 188.0,326.8C189.1,328.9 190.2,331.0 191.4,333.0C192.6,335.0 193.8,336.9 195.1,338.8C196.4,340.8 197.8,342.6 199.2,344.5C200.6,346.3 202.1,348.1 203.7,349.8C205.2,351.6 206.8,353.2 208.5,354.9C210.1,356.5 211.8,358.1 213.6,359.7C215.3,361.3 217.1,362.8 218.9,364.3C220.7,365.8 222.6,367.2 224.4,368.7C226.3,370.1 228.2,371.5 230.1,372.9C232.0,374.3 233.9,375.6 235.8,377.0C237.8,378.3 239.7,379.6 241.6,380.9C243.6,382.2 245.6,383.5 247.5,384.8C249.5,386.0 251.5,387.3 253.5,388.5C255.5,389.7 257.5,391.0 259.5,392.1C261.5,393.3 263.5,394.5 265.5,395.7C267.6,396.8 269.6,398.0 271.7,399.1C273.7,400.2 275.8,401.3 277.8,402.4C279.9,403.5 282.0,404.6 284.1,405.6C286.1,406.7 288.2,407.7 290.3,408.8C292.4,409.8 294.5,410.8 296.6,411.8C298.7,412.8 300.8,413.8 303.0,414.8C305.1,415.8 307.2,416.8 309.3,417.7C311.5,418.7 313.6,419.6 315.8,420.5C317.9,421.5 320.1,422.4 322.2,423.3C324.4,424.2 326.5,425.1 328.7,426.0C330.8,426.9 333.0,427.8 335.2,428.7C337.4,429.6 339.5,430.4 341.7,431.3C343.9,432.1 346.1,433.0 348.2,433.8C350.4,434.7 352.6,435.5 354.8,436.4C357.0,437.2 359.2,438.0 361.4,438.8C363.6,439.7 365.8,440.5 368.0,441.3C370.2,442.1 372.4,442.9 374.6,443.7C376.8,444.5 379.0,445.3 381.2,446.0C383.4,446.8 385.6,447.6 387.8,448.4C390.0,449.1 392.2,449.9 394.4,450.7C396.6,451.4 398.8,452.2 401.1,452.9C403.3,453.7 405.5,454.4 407.7,455.1C409.9,455.9 412.2,456.6 414.4,457.3C416.6,458.1 418.8,458.8 421.1,459.5C423.3,460.2 425.5,460.9 427.7,461.6C430.0,462.3 432.2,463.0 434.4,463.7C436.7,464.4 438.9,465.1 441.2,465.8C443.4,466.5 445.6,467.1 447.9,467.8C450.1,468.5 452.4,469.1 454.6,469.8C456.8,470.5 459.1,471.1 461.3,471.8C463.6,472.4 465.8,473.1 468.1,473.7C470.3,474.4 472.6,475.0 474.8,475.6C477.1,476.3 479.3,476.9 481.6,477.5C483.8,478.2 486.1,478.8 488.3,479.4C490.6,480.0 492.9,480.6 495.1,481.2C497.4,481.8 499.6,482.4 501.9,483.0C504.2,483.6 506.4,484.2 508.7,484.8C511.0,485.4 513.2,486.0 515.5,486.6C517.8,487.2 520.0,487.7 522.3,488.3C524.6,488.9 526.8,489.4 529.1,490.0C531.4,490.6 533.6,491.1 535.9,491.7C538.2,492.3 540.5,492.8 542.7,493.4C545.0,493.9 547.3,494.5 549.5,495.0C551.8,495.5 554.1,496.1 556.4,496.6C558.7,497.2 560.9,497.7 563.2,498.2C565.5,498.8 568.9,499.5 570.0,499.8" fill="none" stroke="#ff6347" stroke-width="2.9" stroke-linejoin="round" stroke-linecap="butt" stroke-dasharray="10.89 4.71" stroke-dashoffset="10.64"/>
</g>
<g clip-path="url(#cr)">
<path d="M584.0,10.9C584.1,12.1 584.5,15.6 584.8,17.9C585.0,20.3 585.3,22.6 585.6,24.9C585.9,27.2 586.2,29.6 586.6,31.9C586.9,34.2 587.3,36.6 587.6,38.9C588.0,41.2 588.4,43.5 588.8,45.8C589.3,48.1 589.7,50.4 590.2,52.7C590.7,55.0 591.2,57.3 591.7,59.6C592.2,61.9 592.8,64.2 593.4,66.5C594.0,68.8 594.6,71.0 595.3,73.3C595.9,75.5 596.6,77.8 597.4,80.0C598.1,82.2 598.9,84.5 599.7,86.7C600.5,88.9 601.4,91.0 602.3,93.2C603.2,95.4 604.2,97.5 605.2,99.7C606.2,101.8 607.2,103.9 608.3,106.0C609.4,108.1 610.5,110.1 611.7,112.2C612.8,114.2 614.0,116.2 615.3,118.2C616.5,120.2 617.8,122.2 619.1,124.1C620.4,126.1 621.8,128.0 623.2,129.9C624.6,131.8 626.1,133.6 627.5,135.5C629.0,137.3 630.5,139.1 632.1,140.9C633.6,142.6 635.2,144.4 636.8,146.1C638.4,147.8 640.1,149.5 641.8,151.1C643.5,152.7 645.2,154.3 646.9,155.9C648.7,157.5 650.5,159.0 652.3,160.5C654.1,162.0 655.9,163.5 657.8,164.9C659.7,166.3 661.6,167.7 663.5,169.1C665.4,170.5 667.3,171.8 669.3,173.1C671.2,174.4 673.2,175.7 675.1,177.0C677.1,178.3 679.1,179.6 681.1,180.8C683.1,182.1 685.1,183.3 687.1,184.5C689.1,185.8 691.1,187.0 693.1,188.2C695.1,189.4 697.1,190.6 699.1,191.8C701.2,193.0 703.2,194.2 705.2,195.5C707.2,196.7 709.2,197.9 711.2,199.1C713.2,200.3 715.2,201.6 717.2,202.8C719.2,204.0 721.2,205.2 723.2,206.5C725.2,207.7 727.2,209.0 729.2,210.2C731.2,211.4 733.2,212.7 735.2,213.9C737.2,215.2 739.2,216.4 741.2,217.7C743.2,219.0 745.1,220.2 747.1,221.5C749.1,222.8 751.1,224.1 753.0,225.3C755.0,226.6 757.0,227.9 758.9,229.2C760.9,230.5 762.8,231.9 764.8,233.2C766.7,234.5 768.6,235.9 770.5,237.2C772.5,238.6 774.4,239.9 776.3,241.4C778.1,242.8 780.0,244.2 781.9,245.6C783.7,247.1 785.5,248.6 787.3,250.1C789.1,251.6 790.9,253.2 792.6,254.8C794.3,256.4 796.0,258.0 797.7,259.7C799.3,261.3 800.9,263.1 802.5,264.8C804.0,266.6 805.5,268.4 807.0,270.3C808.4,272.1 809.8,274.0 811.1,276.0C812.4,277.9 813.7,279.9 814.9,281.9C816.0,284.0 817.1,286.1 818.1,288.2C819.1,290.3 820.0,292.5 820.9,294.7C821.7,296.9 822.4,299.1 823.1,301.4C823.7,303.7 824.2,306.0 824.7,308.3C825.2,310.6 825.5,312.9 825.8,315.2C826.1,317.5 826.3,319.9 826.5,322.2C826.7,324.6 826.8,326.9 826.9,329.3C827.0,331.6 827.1,334.0 827.1,336.3C827.2,338.7 827.2,341.0 827.2,343.4C827.2,345.7 827.2,348.1 827.2,350.4C827.2,352.8 827.1,355.1 827.1,357.5C827.1,359.8 827.1,362.2 827.0,364.5C827.0,366.9 827.0,369.2 827.0,371.6C827.0,373.9 827.0,376.3 827.0,378.6C827.0,381.0 827.0,383.3 827.1,385.7C827.1,388.0 827.2,390.4 827.2,392.7C827.3,395.1 827.3,397.4 827.4,399.8C827.5,402.1 827.6,404.5 827.7,406.8C827.8,409.2 827.9,411.5 828.1,413.9C828.2,416.2 828.3,418.6 828.5,420.9C828.7,423.2 828.9,425.6 829.1,427.9C829.3,430.3 829.5,432.6 829.8,434.9C830.0,437.3 830.3,439.6 830.6,441.9C830.8,444.3 831.2,446.6 831.5,448.9C831.8,451.3 832.2,453.6 832.5,455.9C832.9,458.2 833.3,460.6 833.7,462.9C834.1,465.2 834.5,467.5 835.0,469.8C835.4,472.1 835.9,474.4 836.4,476.7C836.9,479.0 837.4,481.3 837.9,483.6C838.5,485.9 839.0,488.2 839.6,490.5C840.2,492.8 840.8,495.0 841.4,497.3C842.0,499.6 842.6,501.9 843.3,504.1C844.0,506.4 844.7,508.6 845.4,510.9C846.1,513.1 846.8,515.3 847.6,517.5C848.4,519.8 849.2,522.0 850.1,524.1C850.9,526.3 851.8,528.5 852.7,530.7C853.6,532.8 854.6,535.0 855.6,537.1C856.6,539.2 857.6,541.3 858.7,543.4C859.7,545.5 860.8,547.6 861.9,549.7C863.1,551.7 864.2,553.8 865.4,555.8C866.6,557.8 867.8,559.8 869.1,561.8C870.3,563.8 871.6,565.8 872.9,567.8C874.2,569.7 875.5,571.7 876.9,573.6C878.3,575.5 879.6,577.4 881.0,579.3C882.5,581.1 883.9,583.0 885.3,584.9C886.8,586.7 888.3,588.5 889.8,590.3C891.2,592.2 892.8,594.0 894.3,595.8C895.8,597.6 897.3,599.3 898.9,601.1C900.4,602.9 902.0,604.7 903.5,606.4C905.1,608.2 906.6,610.0 908.2,611.7C909.7,613.5 911.3,615.3 912.8,617.0C914.4,618.8 915.9,620.6 917.5,622.4C919.0,624.2 920.6,625.9 922.1,627.7C923.6,629.5 925.1,631.3 926.6,633.1C928.1,634.9 929.6,636.8 931.1,638.6C932.6,640.4 934.1,642.3 935.5,644.1C936.9,646.0 938.4,647.8 939.8,649.7C941.2,651.6 942.5,653.5 943.9,655.4C945.3,657.3 946.6,659.2 947.9,661.2C949.2,663.1 950.5,665.1 951.7,667.1C953.0,669.1 954.2,671.1 955.3,673.1C956.5,675.1 957.7,677.2 958.8,679.3C959.9,681.4 960.9,683.5 962.0,685.6C963.0,687.7 964.4,691.0 964.9,692.1" fill="none" stroke="#808080" stroke-width="2.6" stroke-linejoin="round" stroke-linecap="square"/>
<path d="M584.0,10.9C584.1,12.1 584.5,15.5 584.8,17.8C585.0,20.1 585.3,22.5 585.6,24.8C585.9,27.1 586.2,29.4 586.6,31.8C586.9,34.1 587.3,36.4 587.6,38.7C588.0,41.1 588.4,43.4 588.8,45.7C589.2,48.0 589.7,50.4 590.2,52.7C590.6,55.0 591.1,57.3 591.7,59.6C592.2,61.9 592.8,64.2 593.4,66.5C594.0,68.7 594.6,71.0 595.3,73.3C595.9,75.5 596.6,77.8 597.4,80.0C598.1,82.2 598.9,84.4 599.7,86.6C600.5,88.8 601.4,91.0 602.3,93.2C603.2,95.3 604.2,97.5 605.2,99.6C606.1,101.7 607.2,103.8 608.3,105.9C609.3,108.0 610.5,110.1 611.6,112.1C612.8,114.1 614.0,116.2 615.2,118.1C616.5,120.1 617.7,122.1 619.1,124.0C620.4,126.0 621.7,127.9 623.1,129.8C624.5,131.6 625.9,133.5 627.4,135.3C628.9,137.2 630.4,138.9 631.9,140.7C633.5,142.5 635.1,144.2 636.7,145.9C638.3,147.6 639.9,149.3 641.6,150.9C643.3,152.6 645.0,154.2 646.7,155.7C648.5,157.3 650.3,158.8 652.1,160.3C653.9,161.8 655.7,163.3 657.6,164.7C659.5,166.1 661.3,167.5 663.3,168.9C665.2,170.3 667.1,171.6 669.1,173.0C671.0,174.3 673.0,175.6 675.0,176.9C676.9,178.2 678.9,179.5 680.9,180.7C682.9,182.0 684.9,183.2 687.0,184.5C689.0,185.7 691.0,186.9 693.0,188.1C695.0,189.4 697.0,190.6 699.1,191.8C701.1,193.0 703.1,194.2 705.1,195.4C707.1,196.6 709.1,197.8 711.1,199.0C713.1,200.3 715.1,201.5 717.1,202.7C719.1,203.9 721.0,205.1 723.0,206.3C725.0,207.6 727.0,208.8 729.0,210.0C730.9,211.3 732.9,212.5 734.9,213.7C736.9,215.0 738.8,216.2 740.8,217.5C742.8,218.7 744.7,220.0 746.7,221.3C748.7,222.5 750.7,223.8 752.6,225.1C754.6,226.4 756.6,227.7 758.5,229.0C760.5,230.3 762.5,231.6 764.4,233.0C766.4,234.3 768.4,235.6 770.3,237.0C772.2,238.4 774.2,239.8 776.1,241.2C778.0,242.6 779.9,244.0 781.7,245.5C783.6,247.0 785.4,248.5 787.2,250.0C789.0,251.5 790.8,253.1 792.5,254.7C794.2,256.3 795.9,257.9 797.5,259.5C799.2,261.2 800.8,262.9 802.3,264.7C803.9,266.4 805.4,268.2 806.8,270.0C808.2,271.9 809.6,273.7 810.9,275.7C812.2,277.6 813.5,279.6 814.7,281.6C815.8,283.7 816.9,285.7 817.9,287.8C819.0,290.0 819.9,292.1 820.7,294.3C821.6,296.5 822.3,298.7 822.9,300.9C823.6,303.2 824.1,305.4 824.6,307.7C825.0,310.0 825.4,312.3 825.7,314.6C826.0,316.9 826.3,319.3 826.4,321.6C826.6,323.9 826.8,326.3 826.9,328.6C827.0,331.0 827.0,333.3 827.1,335.6C827.1,338.0 827.2,340.3 827.2,342.7C827.2,345.0 827.2,347.3 827.2,349.7C827.2,352.0 827.1,354.4 827.1,356.7C827.1,359.1 827.1,361.4 827.1,363.8C827.0,366.2 827.0,368.5 827.0,370.9C827.0,373.3 827.0,375.6 827.0,378.0C827.0,380.4 827.0,382.7 827.1,385.1C827.1,387.5 827.1,389.8 827.2,392.2C827.2,394.6 827.3,396.9 827.4,399.3C827.5,401.7 827.6,404.0 827.7,406.4C827.8,408.7 828.0,411.1 828.2,413.4C828.3,415.8 828.5,418.1 828.7,420.5C829.0,422.8 829.2,425.1 829.5,427.5C829.8,429.8 830.1,432.1 830.4,434.4C830.8,436.8 831.1,439.1 831.5,441.4C832.0,443.7 832.4,445.9 832.9,448.2C833.4,450.5 833.9,452.8 834.5,455.0C835.0,457.3 835.6,459.5 836.3,461.8C836.9,464.0 837.6,466.3 838.4,468.5C839.1,470.7 839.9,472.9 840.7,475.1C841.5,477.3 842.3,479.5 843.2,481.7C844.0,483.8 844.9,486.0 845.8,488.2C846.7,490.3 847.7,492.5 848.6,494.7C849.6,496.8 850.5,499.0 851.5,501.1C852.4,503.3 853.4,505.4 854.4,507.6C855.4,509.7 856.3,511.9 857.3,514.0C858.3,516.2 859.2,518.4 860.2,520.5C861.1,522.7 862.1,524.8 863.0,527.0C863.9,529.1 864.8,531.3 865.7,533.5C866.6,535.6 867.5,537.8 868.4,540.0C869.3,542.2 870.1,544.3 870.9,546.5C871.8,548.7 872.6,550.9 873.4,553.1C874.1,555.3 874.9,557.5 875.6,559.7C876.4,561.9 877.1,564.2 877.8,566.4C878.5,568.6 879.1,570.9 879.7,573.1C880.4,575.4 880.9,577.6 881.5,579.9C882.1,582.2 882.6,584.5 883.1,586.8C883.6,589.0 884.0,591.3 884.5,593.7C884.9,596.0 885.3,598.3 885.7,600.6C886.1,602.9 886.4,605.2 886.7,607.6C887.1,609.9 887.4,612.3 887.7,614.6C888.0,616.9 888.2,619.3 888.5,621.6C888.7,624.0 889.0,626.3 889.2,628.7C889.4,631.1 889.6,633.4 889.8,635.8C889.9,638.1 890.1,640.5 890.3,642.8C890.4,645.2 890.6,647.6 890.7,649.9C890.8,652.3 891.0,654.6 891.1,657.0C891.2,659.3 891.3,661.7 891.4,664.0C891.5,666.4 891.6,668.7 891.8,671.1C891.9,673.4 892.0,675.7 892.1,678.1C892.2,680.4 892.3,682.7 892.4,685.0C892.5,687.3 892.6,690.8 892.7,691.9" fill="none" stroke="#6495ed" stroke-width="2.6" stroke-linejoin="round" stroke-linecap="square"/>
<path d="M584.4,10.5C584.5,11.7 584.9,15.2 585.2,17.5C585.4,19.8 585.7,22.2 586.0,24.5C586.3,26.8 586.7,29.2 587.0,31.5C587.3,33.8 587.7,36.1 588.0,38.5C588.4,40.8 588.8,43.1 589.2,45.4C589.7,47.7 590.1,50.0 590.6,52.3C591.0,54.6 591.5,56.9 592.1,59.2C592.6,61.5 593.2,63.8 593.8,66.0C594.4,68.3 595.0,70.6 595.7,72.8C596.3,75.1 597.0,77.3 597.8,79.6C598.5,81.8 599.3,84.0 600.1,86.2C600.9,88.4 601.8,90.6 602.7,92.8C603.6,94.9 604.6,97.1 605.6,99.2C606.5,101.3 607.6,103.4 608.6,105.5C609.7,107.6 610.8,109.7 612.0,111.7C613.2,113.8 614.4,115.8 615.6,117.8C616.9,119.8 618.2,121.7 619.5,123.7C620.8,125.6 622.2,127.5 623.6,129.4C625.0,131.3 626.4,133.2 627.9,135.0C629.4,136.8 630.9,138.6 632.4,140.4C634.0,142.2 635.5,143.9 637.1,145.6C638.8,147.3 640.4,149.0 642.1,150.6C643.8,152.3 645.5,153.9 647.2,155.4C649.0,157.0 650.8,158.5 652.6,160.0C654.4,161.5 656.2,163.0 658.1,164.4C660.0,165.8 661.9,167.2 663.8,168.6C665.7,170.0 667.6,171.3 669.5,172.6C671.5,174.0 673.5,175.3 675.4,176.5C677.4,177.8 679.4,179.1 681.4,180.3C683.3,181.6 685.3,182.8 687.3,184.0C689.4,185.3 691.4,186.5 693.4,187.7C695.4,188.9 697.4,190.1 699.4,191.3C701.4,192.6 703.4,193.8 705.4,195.0C707.4,196.2 709.5,197.4 711.5,198.6C713.5,199.8 715.5,201.1 717.5,202.3C719.5,203.5 721.5,204.7 723.5,206.0C725.5,207.2 727.5,208.5 729.5,209.7C731.5,210.9 733.5,212.2 735.5,213.4C737.4,214.7 739.4,216.0 741.4,217.2C743.4,218.5 745.4,219.7 747.3,221.0C749.3,222.3 751.3,223.6 753.3,224.8C755.2,226.1 757.2,227.4 759.1,228.7C761.1,230.0 763.0,231.3 765.0,232.7C766.9,234.0 768.9,235.3 770.8,236.7C772.7,238.0 774.6,239.4 776.5,240.8C778.4,242.2 780.2,243.7 782.1,245.1C783.9,246.6 785.8,248.0 787.5,249.5C789.3,251.0 791.1,252.6 792.8,254.1C794.6,255.7 796.3,257.3 798.0,259.0C799.6,260.6 801.2,262.3 802.8,264.0C804.4,265.7 805.9,267.5 807.4,269.3C808.9,271.1 810.4,272.9 811.8,274.8C813.2,276.7 814.5,278.6 815.8,280.6C817.2,282.5 818.4,284.5 819.7,286.5C820.9,288.5 822.1,290.5 823.3,292.6C824.4,294.7 825.6,296.7 826.6,298.8C827.7,300.9 828.8,303.0 829.8,305.2C830.8,307.3 831.8,309.4 832.8,311.6C833.7,313.7 834.7,315.9 835.6,318.1C836.5,320.2 837.4,322.4 838.2,324.6C839.1,326.8 839.9,329.0 840.8,331.2C841.6,333.3 842.4,335.5 843.2,337.7C844.1,339.9 844.9,342.1 845.7,344.3C846.5,346.5 847.4,348.7 848.2,350.9C849.0,353.1 849.9,355.3 850.7,357.5C851.5,359.7 852.4,361.9 853.2,364.1C854.1,366.3 854.9,368.4 855.7,370.6C856.6,372.8 857.4,375.0 858.2,377.2C859.0,379.5 859.8,381.7 860.6,383.9C861.4,386.1 862.2,388.3 862.9,390.5C863.6,392.8 864.4,395.0 865.0,397.3C865.7,399.5 866.4,401.8 867.0,404.0C867.6,406.3 868.2,408.6 868.7,410.9C869.2,413.1 869.8,415.4 870.2,417.7C870.7,420.0 871.2,422.3 871.6,424.6C872.0,426.9 872.4,429.3 872.8,431.6C873.1,433.9 873.5,436.2 873.8,438.5C874.1,440.9 874.4,443.2 874.7,445.5C875.0,447.9 875.2,450.2 875.5,452.5C875.7,454.9 875.9,457.2 876.2,459.5C876.4,461.9 876.5,464.2 876.7,466.6C876.9,468.9 877.1,471.2 877.2,473.6C877.3,475.9 877.5,478.3 877.6,480.6C877.7,483.0 877.8,485.3 877.9,487.7C878.0,490.0 878.1,492.4 878.2,494.7C878.3,497.1 878.4,499.4 878.5,501.8C878.5,504.1 878.6,506.5 878.7,508.8C878.7,511.2 878.8,513.5 878.9,515.9C878.9,518.2 879.0,520.6 879.0,522.9C879.1,525.3 879.2,527.6 879.2,530.0C879.3,532.3 879.3,534.7 879.4,537.0C879.5,539.4 879.5,541.7 879.6,544.1C879.7,546.4 879.7,548.8 879.8,551.1C879.9,553.5 879.9,555.8 880.0,558.2C880.1,560.5 880.2,562.8 880.2,565.2C880.3,567.5 880.4,569.9 880.4,572.2C880.5,574.6 880.6,576.9 880.6,579.3C880.7,581.6 880.8,584.0 880.9,586.3C880.9,588.7 881.0,591.0 881.0,593.3C881.1,595.7 881.2,598.0 881.2,600.4C881.3,602.7 881.3,605.1 881.4,607.4C881.5,609.8 881.5,612.1 881.6,614.5C881.6,616.8 881.7,619.2 881.7,621.5C881.7,623.8 881.8,626.2 881.8,628.5C881.8,630.9 881.9,633.2 881.9,635.6C881.9,637.9 881.9,640.3 882.0,642.6C882.0,645.0 882.0,647.3 882.0,649.7C882.0,652.0 882.0,654.4 882.0,656.7C882.0,659.1 882.0,661.4 882.0,663.8C882.0,666.1 881.9,668.5 881.9,670.8C881.9,673.2 881.9,675.5 881.8,677.9C881.8,680.2 881.7,682.6 881.7,684.9C881.6,687.3 881.5,690.8 881.5,692.0" fill="none" stroke="#ff6347" stroke-width="2.6" stroke-linejoin="round" stroke-linecap="square"/>
</g>
<g stroke="#101010" stroke-width="1.75" fill="none" stroke-linecap="square">
<rect x="108.5" y="10.4" width="452.5" height="677.6"/>
<rect x="561.0" y="10.4" width="451.0" height="677.6"/>
</g>
<g stroke="#101010" stroke-width="1.75" stroke-linecap="butt">
<line x1="101.50" x2="108.5" y1="10.00" y2="10.00"/>
<line x1="101.50" x2="108.5" y1="123.00" y2="123.00"/>
<line x1="101.50" x2="108.5" y1="236.00" y2="236.00"/>
<line x1="101.50" x2="108.5" y1="349.00" y2="349.00"/>
<line x1="101.50" x2="108.5" y1="462.00" y2="462.00"/>
<line x1="101.50" x2="108.5" y1="575.00" y2="575.00"/>
<line x1="101.50" x2="108.5" y1="688.00" y2="688.00"/>
<path d="M104.00,44.02H108.5M556.50,44.02H561.0M104.00,63.91H108.5M556.50,63.91H561.0M104.00,78.03H108.5M556.50,78.03H561.0M104.00,88.98H108.5M556.50,88.98H561.0M104.00,97.93H108.5M556.50,97.93H561.0M104.00,105.50H108.5M556.50,105.50H561.0M104.00,112.05H108.5M556.50,112.05H561.0M104.00,117.83H108.5M556.50,117.83H561.0M104.00,157.02H108.5M556.50,157.02H561.0M104.00,176.91H108.5M556.50,176.91H561.0M104.00,191.03H108.5M556.50,191.03H561.0M104.00,201.98H108.5M556.50,201.98H561.0M104.00,210.93H108.5M556.50,210.93H561.0M104.00,218.50H108.5M556.50,218.50H561.0M104.00,225.05H108.5M556.50,225.05H561.0M104.00,230.83H108.5M556.50,230.83H561.0M104.00,270.02H108.5M556.50,270.02H561.0M104.00,289.91H108.5M556.50,289.91H561.0M104.00,304.03H108.5M556.50,304.03H561.0M104.00,314.98H108.5M556.50,314.98H561.0M104.00,323.93H108.5M556.50,323.93H561.0M104.00,331.50H108.5M556.50,331.50H561.0M104.00,338.05H108.5M556.50,338.05H561.0M104.00,343.83H108.5M556.50,343.83H561.0M104.00,383.02H108.5M556.50,383.02H561.0M104.00,402.91H108.5M556.50,402.91H561.0M104.00,417.03H108.5M556.50,417.03H561.0M104.00,427.98H108.5M556.50,427.98H561.0M104.00,436.93H108.5M556.50,436.93H561.0M104.00,444.50H108.5M556.50,444.50H561.0M104.00,451.05H108.5M556.50,451.05H561.0M104.00,456.83H108.5M556.50,456.83H561.0M104.00,496.02H108.5M556.50,496.02H561.0M104.00,515.91H108.5M556.50,515.91H561.0M104.00,530.03H108.5M556.50,530.03H561.0M104.00,540.98H108.5M556.50,540.98H561.0M104.00,549.93H108.5M556.50,549.93H561.0M104.00,557.50H108.5M556.50,557.50H561.0M104.00,564.05H108.5M556.50,564.05H561.0M104.00,569.83H108.5M556.50,569.83H561.0M104.00,609.02H108.5M556.50,609.02H561.0M104.00,628.91H108.5M556.50,628.91H561.0M104.00,643.03H108.5M556.50,643.03H561.0M104.00,653.98H108.5M556.50,653.98H561.0M104.00,662.93H108.5M556.50,662.93H561.0M104.00,670.50H108.5M556.50,670.50H561.0M104.00,677.05H108.5M556.50,677.05H561.0M104.00,682.83H108.5M556.50,682.83H561.0" stroke-width="1.6"/>
<line x1="156.44" x2="156.44" y1="688.0" y2="695.0"/>
<line x1="227.65" x2="227.65" y1="688.0" y2="695.0"/>
<line x1="298.86" x2="298.86" y1="688.0" y2="695.0"/>
<line x1="370.07" x2="370.07" y1="688.0" y2="695.0"/>
<line x1="441.3" x2="441.3" y1="688.0" y2="695.0"/>
<line x1="512.5" x2="512.5" y1="688.0" y2="695.0"/>
<line x1="580.64" x2="580.64" y1="688.0" y2="695.0"/>
<line x1="690.19" x2="690.19" y1="688.0" y2="695.0"/>
<line x1="799.73" x2="799.73" y1="688.0" y2="695.0"/>
<line x1="909.28" x2="909.28" y1="688.0" y2="695.0"/>
</g>
<g font-size="23.2" text-anchor="middle">
<text x="156.8" y="718.7">1250</text>
<text x="227.2" y="718.7">1500</text>
<text x="297.6" y="718.7">1750</text>
<text x="368.9" y="718.7">2000</text>
<text x="439.1" y="718.7">2250</text>
<text x="511.3" y="718.7">2500</text>
<text x="579.5" y="718.7">0.00</text>
<text x="689.6" y="718.7">0.05</text>
<text x="797.9" y="718.7">0.10</text>
<text x="909.1" y="718.7">0.15</text>
</g>
<text font-size="23.2"><tspan x="40" y="22.4">10</tspan><tspan font-size="16.24" x="69.3" y="14.0">−3</tspan></text>
<text font-size="23.2"><tspan x="40" y="135.4">10</tspan><tspan font-size="16.24" x="69.3" y="127.0">−2</tspan></text>
<text font-size="23.2"><tspan x="40" y="248.4">10</tspan><tspan font-size="16.24" x="69.3" y="240.0">−1</tspan></text>
<text font-size="23.2"><tspan x="52.6" y="361.4">10</tspan><tspan font-size="16.24" x="82.4" y="353.0">0</tspan></text>
<text font-size="23.2"><tspan x="52.6" y="474.4">10</tspan><tspan font-size="16.24" x="82.4" y="466.0">1</tspan></text>
<text font-size="23.2"><tspan x="52.6" y="587.4">10</tspan><tspan font-size="16.24" x="82.4" y="579.0">2</tspan></text>
<text font-size="23.2"><tspan x="52.6" y="700.4">10</tspan><tspan font-size="16.24" x="82.4" y="692.0">3</tspan></text>
<text class="i" font-size="29.2" transform="translate(23.4,389.2) rotate(-90) scale(0.955,1.03)"><tspan x="0" y="0">P</tspan><tspan x="20.4" y="0" font-style="normal">/</tspan><tspan x="30.3" y="0">bar</tspan></text>
<g transform="matrix(1 0 0 1.03 0 -22.593)"><text font-size="29.2" text-anchor="middle" x="333.5" y="753.1">T/K</text></g>
<g transform="matrix(1 0 0 1.05 0 -37.710)"><text class="i" font-size="29.2"><tspan x="718.2" y="754.2">T</tspan><tspan font-size="20.44" x="735.6" y="757.8">s</tspan><tspan x="747.2" y="754.2" font-style="normal">/</tspan><tspan x="757" y="754.2">T</tspan><tspan font-size="20.44" x="774.4" y="757.8">ns</tspan><tspan x="805.2" y="754.2" font-style="normal">−</tspan><tspan x="835.3" y="754.2" font-style="normal">1</tspan></text></g>
<line x1="163.1" x2="224.4" y1="59" y2="59" stroke="#808080" stroke-width="2.9"/>
<line x1="164.6" x2="222.9" y1="106.9" y2="106.9" stroke="#808080" stroke-width="2.9" stroke-dasharray="10.89 4.71"/>
<line x1="164.6" x2="222.9" y1="154.6" y2="154.6" stroke="#000" stroke-width="5.8" stroke-dasharray="5.7 9.9"/>
<g transform="matrix(1 0 0 1.06 0 -4.134)"><text font-size="29.2"><tspan class="i" x="248.5" y="68.9">σ</tspan><tspan font-size="20.44" x="266.8" y="73.2">th</tspan><tspan x="295.0" y="68.9">=</tspan><tspan class="i" x="325.5" y="68.9">κ</tspan><tspan font-size="20.44" x="342.5" y="73.2">th</tspan></text></g>
<g transform="matrix(1 0 0 1.06 0 -7.044)"><text font-size="29.2"><tspan class="i" x="248.5" y="117.4">σ</tspan><tspan font-size="20.44" x="266.8" y="121.7">th</tspan><tspan x="295.0" y="117.4">=</tspan><tspan x="325" y="117.4">0</tspan></text></g>
<g transform="matrix(1 0 0 1.06 0 -9.966)"><text font-size="29.2"><tspan class="i" x="250.1" y="166.1">Analytical</tspan><tspan x="404" y="166.1">&amp;</tspan><tspan class="i" x="436.4" y="166.1">σ</tspan><tspan font-size="20.44" x="454.7" y="170.4">th</tspan><tspan x="482.9" y="166.1">=</tspan><tspan class="i" x="513.4" y="166.1">κ</tspan><tspan font-size="20.44" x="530.4" y="170.4">th</tspan></text></g>
<line x1="660" x2="722" y1="49.1" y2="49.1" stroke="#808080" stroke-width="2.9"/>
<line x1="660" x2="722" y1="102.7" y2="102.7" stroke="#6495ed" stroke-width="2.9"/>
<line x1="660" x2="722" y1="156.4" y2="156.4" stroke="#ff6347" stroke-width="2.9"/>
<g transform="matrix(1 0 0 1.06 0 -3.624)"><text font-size="29.2"><tspan class="i" x="746.2" y="60.4">K</tspan><tspan font-size="20.44" x="765" y="64.4">zz</tspan><tspan x="792.7" y="60.4">=</tspan><tspan x="824" y="60.4">0</tspan></text></g>
<g transform="matrix(1 0 0 1.06 0 -6.672)"><text font-size="29.2"><tspan class="i" x="746.2" y="111.2">K</tspan><tspan font-size="20.44" x="765" y="115.2">zz</tspan><tspan x="792.7" y="111.2">=</tspan><tspan x="823.7" y="111.2">10</tspan><tspan font-size="19.80" x="860.4" y="100.7">6</tspan><tspan class="i" x="885" y="111.2">cm</tspan><tspan font-size="19.80" x="930.9" y="100.7">2</tspan><tspan class="i" x="954" y="111.2">s</tspan><tspan font-size="19.80" x="970" y="100.7">−1</tspan></text></g>
<g transform="matrix(1 0 0 1.06 0 -9.864)"><text font-size="29.2"><tspan class="i" x="746.2" y="164.4">K</tspan><tspan font-size="20.44" x="765" y="168.4">zz</tspan><tspan x="792.7" y="164.4">=</tspan><tspan x="823.7" y="164.4">10</tspan><tspan font-size="19.80" x="860.4" y="153.9">9</tspan><tspan class="i" x="885" y="164.4">cm</tspan><tspan font-size="19.80" x="930.9" y="153.9">2</tspan><tspan class="i" x="954" y="164.4">s</tspan><tspan font-size="19.80" x="970" y="153.9">−1</tspan></text></g>
</g>
</svg></body></html>
